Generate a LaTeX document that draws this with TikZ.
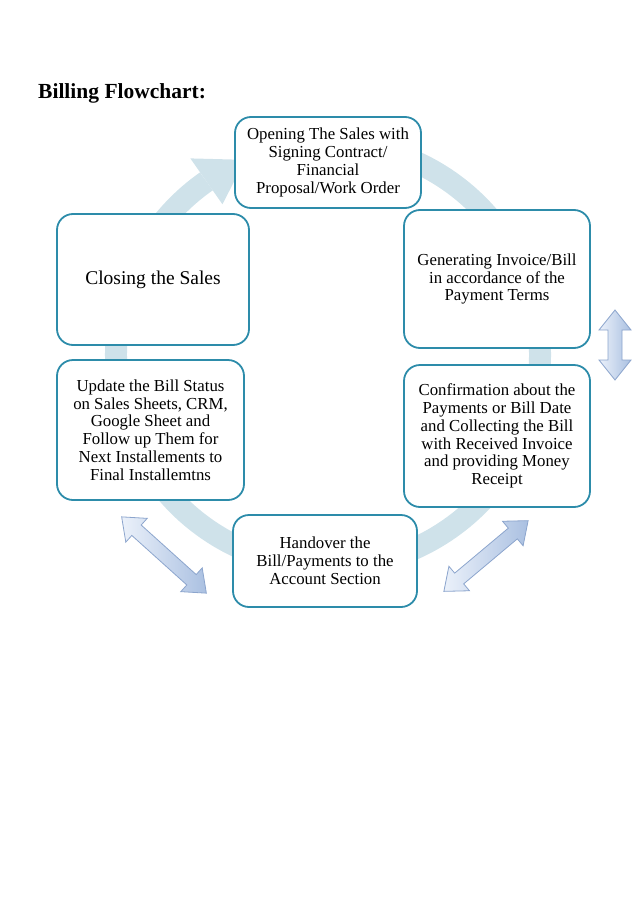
\documentclass[tikz,border=0pt]{standalone}
\usepackage{fontspec}
\setmainfont{Liberation Serif}
\usetikzlibrary{calc}
\begin{document}
\begin{tikzpicture}[x=1pt,y=-1pt,
  box/.style={draw=boxc,line width=1.8pt,rounded corners=16pt,fill=white,align=center,font=\fontsize{16.8}{17.8}\selectfont,inner sep=1pt},
  darr/.style={draw=arrd,line width=0.8pt,left color=arrl,right color=arrm,line join=miter}]
\definecolor{boxc}{RGB}{45,140,170}
\definecolor{ringc}{RGB}{207,226,234}
\definecolor{arrd}{RGB}{140,165,205}
\definecolor{arrl}{RGB}{235,241,250}
\definecolor{arrm}{RGB}{170,192,225}
\useasboundingbox (0,0) rectangle (638,902);
% ring
\draw[ringc,line width=22pt] (328,355) ++(-125:212) arc[start angle=-125,end angle=-460,radius=212];
\fill[ringc] ($(328,355)+(-125:240)$) -- ($(328,355)+(-113:212)$) -- ($(328,355)+(-125:184)$) -- cycle;
% double arrows
\newcommand{\dbarrow}[3]{\begin{scope}[shift={(#1)},rotate=#2]
 \path[darr] (-#3,0) -- (-#3+20,-16) -- (-#3+20,-7) -- (#3-20,-7) -- (#3-20,-16) -- (#3,0) -- (#3-20,16) -- (#3-20,7) -- (-#3+20,7) -- (-#3+20,16) -- cycle;
\end{scope}}
\dbarrow{615,345}{90}{35}
\dbarrow{164,555}{-42}{57}
\dbarrow{486,556}{40}{55}
% title
\node[anchor=base west,font=\fontsize{21.5}{24}\selectfont\bfseries,inner sep=0pt] (title) at (38,98) {Billing Flowchart:};
% boxes
\node[box,minimum width=186pt,minimum height=91pt] (b1) at (328,162.5) {Opening The Sales with\\Signing Contract/\\Financial\\Proposal/Work Order};
\node[box,minimum width=186pt,minimum height=138pt] (b2) at (497,279) {Generating Invoice/Bill\\in accordance of the\\Payment Terms};
\node[box,minimum width=186pt,minimum height=142pt] (b3) at (497,436) {Confirmation about the\\Payments or Bill Date\\and Collecting the Bill\\with Received Invoice\\and providing Money\\Receipt};
\node[box,minimum width=184pt,minimum height=92pt] (b4) at (325,561) {Handover the\\Bill/Payments to the\\Account Section};
\node[box,minimum width=187pt,minimum height=140pt] (b5) at (150.5,430) {Update the Bill Status\\on Sales Sheets, CRM,\\Google Sheet and\\Follow up Them for\\Next Installements to\\Final Installemtns};
\node[box,minimum width=192pt,minimum height=131pt,font=\fontsize{19.5}{21}\selectfont] (b6) at (153,279.5) {Closing the Sales};
\end{tikzpicture}
\end{document}
